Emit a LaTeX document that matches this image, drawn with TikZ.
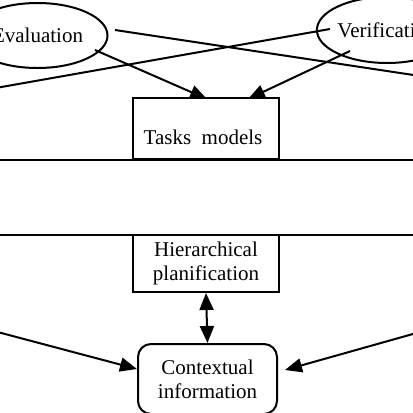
\documentclass[tikz,border=0pt]{standalone}
\usepackage{fontspec}
\setmainfont{Liberation Serif}
\usetikzlibrary{arrows.meta,shapes.geometric}
\begin{document}
\begin{tikzpicture}[x=1pt,y=-1pt,
  every node/.style={font=\fontsize{21}{24}\selectfont},
  ln/.style={line width=2pt},
  arr/.style={ln,-{Triangle[length=17pt,width=14pt]}},
  darr/.style={ln,{Triangle[length=17pt,width=14pt]}-{Triangle[length=17pt,width=14pt]}},
  ell/.style={draw,ellipse,line width=2pt,inner sep=0pt},
  boxx/.style={draw,rectangle,line width=2pt,inner sep=0pt,align=center}]
\useasboundingbox (0,0) rectangle (413,413);
\clip (0,0) rectangle (413,413);
% ellipses
\node[ell,minimum width=140pt,minimum height=65pt] (eval) at (37.5,35.5) {Evaluation};
\node[ell,minimum width=110pt,minimum height=66pt] (verif) at (387,30) {Verification};
% boxes
\node[boxx,minimum width=146pt,minimum height=61pt] (tasks) at (206,128.5) {};
\node (taskstext) at (203,137) {Tasks~~models};
\node[boxx,minimum width=146pt,minimum height=57pt] (hier) at (206,263.5) {Hierarchical\\planification};
\node[boxx,rounded corners=13pt,minimum width=139pt,minimum height=70pt] (ctx) at (207.5,379) {Contextual\\information};
% free ends
\coordinate (e1) at (115,30);
\coordinate (r1) at (420,76);
\coordinate (v1) at (330,29);
\coordinate (l1) at (-10,89);
\coordinate (a1s) at (95,50);
\coordinate (a1e) at (207,99);
\coordinate (a2s) at (350,51);
\coordinate (a2e) at (248,99);
\coordinate (h1l) at (-5,160);
\coordinate (h1r) at (420,160);
\coordinate (h2l) at (-5,235);
\coordinate (h2r) at (420,235);
\coordinate (cl) at (-10,330);
\coordinate (cle) at (137,369);
\coordinate (cr) at (420,332);
\coordinate (cre) at (285,370);
% connectors
\draw[ln] (e1) -- (r1);
\draw[ln] (v1) -- (l1);
\draw[arr] (a1s) -- (a1e);
\draw[arr] (a2s) -- (a2e);
\draw[ln] (h1l) -- (h1r);
\draw[ln] (h2l) -- (h2r);
\draw[darr] (hier.south) -- (ctx.north);
\draw[arr] (cl) -- (cle);
\draw[arr] (cr) -- (cre);
\end{tikzpicture}
\end{document}
